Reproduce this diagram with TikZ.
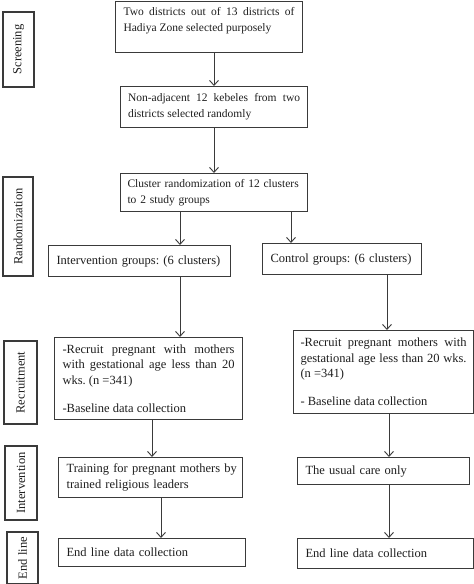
\documentclass[tikz,border=0pt]{standalone}
\usepackage{fontspec}
\setmainfont{Liberation Serif}
\usetikzlibrary{arrows.meta}
\hyphenpenalty=10000
\exhyphenpenalty=10000
\frenchspacing
\hbadness=10000
\hfuzz=20pt
\definecolor{linec}{HTML}{3A3A3A}
\definecolor{txtc}{HTML}{1E1E1E}
\begin{document}
\begin{tikzpicture}[x=1pt,y=-1pt,
 box/.style={draw=linec, line width=1.1pt, inner xsep=8pt, inner ysep=0pt, anchor=north west, text=txtc},
 topf/.style={font=\frenchspacing\fontsize{11.5}{16}\selectfont},
 lowf/.style={font=\frenchspacing\fontsize{12.5}{15.5}\selectfont},
 lab/.style={draw=linec, line width=1.1pt, rotate=90, inner sep=0pt, text=txtc, font=\fontsize{12.5}{15}\selectfont},
 arr/.style={draw=linec, line width=0.9pt, -{Straight Barb[length=5pt,width=9pt]}}]
\useasboundingbox (0,0) rectangle (474,584);
\clip (0,0) rectangle (474,584);

% main boxes
\node[box, topf, text width=171pt, minimum width=187pt, minimum height=51.4pt, align=justify] (b1) at (115,0.6)
  {Two districts out of 13 districts of Hadiya Zone selected purposely\par\vspace{11.5pt}};
\node[box, topf, inner xsep=7.5pt, text width=172pt, minimum width=187pt, minimum height=41pt, align=justify] (b2) at (120,86)
  {Non-adjacent 12 kebeles from two districts selected randomly};
\node[box, topf, inner xsep=7pt, text width=173pt, minimum width=187pt, minimum height=38pt, align=left] (b3) at (120,173)
  {Cluster randomization of 12 clusters to 2 study groups};
\node[box, lowf, text width=166pt, minimum width=182pt, minimum height=31pt, align=left] (ig) at (48,245)
  {Intervention groups: (6 clusters)};
\node[box, lowf, text width=143pt, minimum width=159pt, minimum height=31pt, align=left] (cg) at (262,243)
  {Control groups: (6 clusters)};
\node[box, lowf, text width=172pt, minimum width=188pt, minimum height=82pt, align=justify] (rl) at (54,337)
  {-Recruit pregnant with mothers with gestational age less than 20 wks. (n =341)\par\vspace{12.5pt}-Baseline data collection};
\node[box, lowf, inner xsep=7pt, text width=166pt, minimum width=180pt, minimum height=83pt, align=justify] (rr) at (293,330)
  {-Recruit pregnant mothers with gestational age less than 20 wks. (n =341)\par\vspace{12.5pt}- Baseline data collection};
\node[box, lowf, text width=168pt, minimum width=184pt, minimum height=40pt, align=left] (tr) at (58,457)
  {\mbox{Training for pregnant mothers by}\\trained religious leaders};
\node[box, lowf, text width=156pt, minimum width=172pt, minimum height=27pt, align=left] (uc) at (297,457)
  {The usual care only};
\node[box, lowf, text width=171pt, minimum width=187pt, minimum height=28pt, align=left] (el) at (58,538)
  {End line data collection};
\node[box, lowf, text width=160pt, minimum width=176pt, minimum height=30pt, align=left] (er) at (297,538)
  {End line data collection};

% stage labels
\node[lab, minimum width=75pt, minimum height=31pt] (l1) at (18.5,49.5) {Screening};
\node[lab, minimum width=99pt, minimum height=30pt] (l2) at (18,226.5) {Randomization};
\node[lab, minimum width=83pt, minimum height=33pt] (l3) at (20.5,382.5) {Recruitment};
\node[lab, minimum width=74pt, minimum height=32pt] (l4) at (21,483) {Intervention};
\node[lab, minimum width=52pt, minimum height=31pt] (l5) at (22.5,558) {End line};

% connector x positions
\coordinate (xa) at (214,0);
\coordinate (xb) at (180,0);
\coordinate (xc) at (291,0);
\coordinate (xd) at (387,0);
\coordinate (xe) at (152,0);
\coordinate (xf) at (389,0);
\coordinate (xg) at (161,0);

\draw[arr] (b1.south -| xa) -- (b2.north -| xa);
\draw[arr] (b2.south -| xa) -- (b3.north -| xa);
\draw[arr] (b3.south -| xb) -- (ig.north -| xb);
\draw[arr] (b3.south -| xc) -- (cg.north -| xc);
\draw[arr] (ig.south -| xb) -- (rl.north -| xb);
\draw[arr] (cg.south -| xd) -- (rr.north -| xd);
\draw[arr] (rl.south -| xe) -- (tr.north -| xe);
\draw[arr] (rr.south -| xf) -- (uc.north -| xf);
\draw[arr] (tr.south -| xg) -- (el.north -| xg);
\draw[arr] (uc.south -| xf) -- (er.north -| xf);
\end{tikzpicture}
\end{document}
